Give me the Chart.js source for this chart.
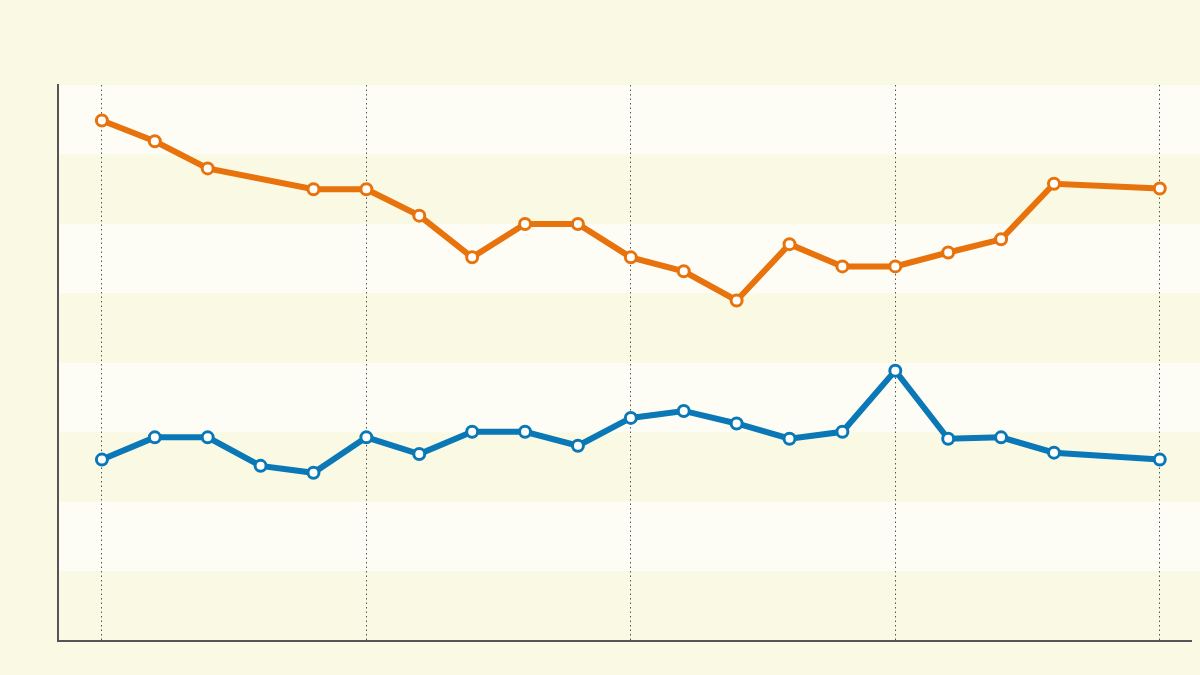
<!DOCTYPE html><html><head><script src="https://cdn.jsdelivr.net/npm/chart.js"></script>
<style>html,body{margin:0;background:#faf9e4}#w{width:1200px;height:675px}</style></head><body><div id="w"><canvas id="c"></canvas></div>
<script>
const xIndex=[0,1,2,3,4,5,6,7,8,9,10,11,12,13,14,15,16,17,18,19,20];
const orange=[7.49,7.19,6.80,null,6.50,6.50,6.12,5.52,6.00,6.00,5.52,5.32,4.90,5.71,5.39,5.39,5.59,5.78,6.58,null,6.51];
const blue=[2.61,2.93,2.93,2.52,2.42,2.93,2.69,3.01,3.01,2.81,3.21,3.31,3.13,2.91,3.01,3.89,2.91,2.93,2.71,null,2.61];
const gridX=[0,5,10,15,20];
const pts=a=>xIndex.map((x,i)=>({x,y:a[i]})).filter(p=>p.y!==null);
const bands={id:'bands',beforeDraw(ch){const{ctx,chartArea:a,scales:{y}}=ch;for(let i=0;i<8;i++){ctx.fillStyle=i%2?'#faf9e4':'#fdfdf6';const t=y.getPixelForValue(8-i),b=y.getPixelForValue(7-i);ctx.fillRect(a.left,t,1200-a.left,b-t);}}};
const ds=(d,c)=>({data:pts(d),borderColor:c,borderWidth:6,pointRadius:5.5,pointBorderWidth:3,pointBackgroundColor:'#fff',pointBorderColor:c,tension:0});
new Chart(document.getElementById('c'),{type:'line',data:{datasets:[ds(orange,'#e8720c'),ds(blue,'#0a78b7')]},
options:{responsive:true,maintainAspectRatio:false,animation:false,layout:{padding:{left:50,top:85,right:0,bottom:34}},
plugins:{legend:{display:false},tooltip:{enabled:false}},
scales:{x:{type:'linear',min:-0.83,max:20.6,afterBuildTicks:s=>{s.ticks=gridX.map(v=>({value:v}))},ticks:{display:false,padding:0},
grid:{color:'#555',lineWidth:1,drawTicks:false,tickLength:0},border:{display:true,color:'#555',width:2,dash:[1.5,3]}},
y:{min:0,max:8,ticks:{display:false,padding:0},grid:{display:false},border:{display:true,color:'#555',width:2}}}},
plugins:[bands]});
</script></body></html>
